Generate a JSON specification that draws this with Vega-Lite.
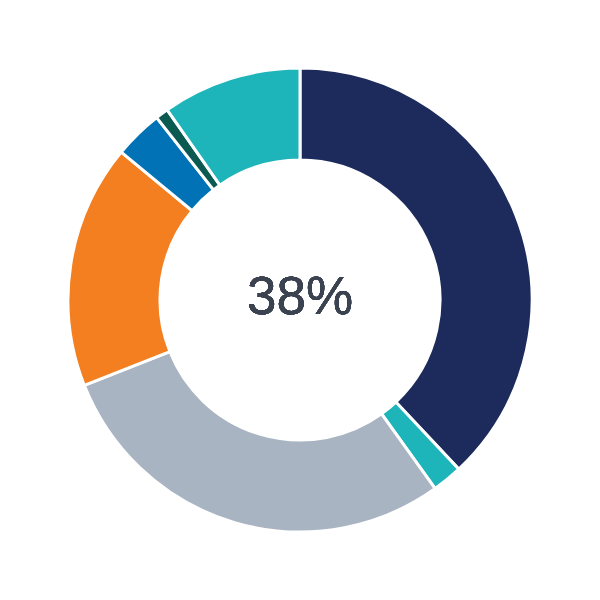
{
  "$schema": "https://vega.github.io/schema/vega-lite/v6.json",
  "autosize": {"type": "fit", "contains": "padding"},
  "width": 600,
  "height": 600,
  "padding": 0,
  "background": "white",
  "config": {"view": {"stroke": null}},
  "data": {
    "values": [
      {"seg": "A", "order": 1, "value": 38},
      {"seg": "B", "order": 2, "value": 2.1},
      {"seg": "C", "order": 3, "value": 28.9},
      {"seg": "D", "order": 4, "value": 17},
      {"seg": "E", "order": 5, "value": 3.4},
      {"seg": "F", "order": 6, "value": 0.9},
      {"seg": "G", "order": 7, "value": 9.7}
    ]
  },
  "layer": [
    {
      "mark": {"type": "arc", "outerRadius": 232, "innerRadius": 140, "stroke": "white", "strokeWidth": 3},
      "encoding": {
        "theta": {"field": "value", "type": "quantitative", "stack": true},
        "order": {"field": "order", "type": "quantitative"},
        "color": {
          "field": "seg",
          "type": "nominal",
          "legend": null,
          "scale": {
            "domain": ["A", "B", "C", "D", "E", "F", "G"],
            "range": ["#1c2b5c", "#1db5b9", "#a9b4c2", "#f37f21", "#0072b5", "#0b5a52", "#1db5b9"]
          }
        }
      }
    },
    {
      "mark": {"type": "text", "fontSize": 53, "font": "Liberation Sans", "color": "#3b4250", "baseline": "middle", "align": "center", "dy": -2},
      "encoding": {"text": {"value": "38%"}}
    }
  ]
}
